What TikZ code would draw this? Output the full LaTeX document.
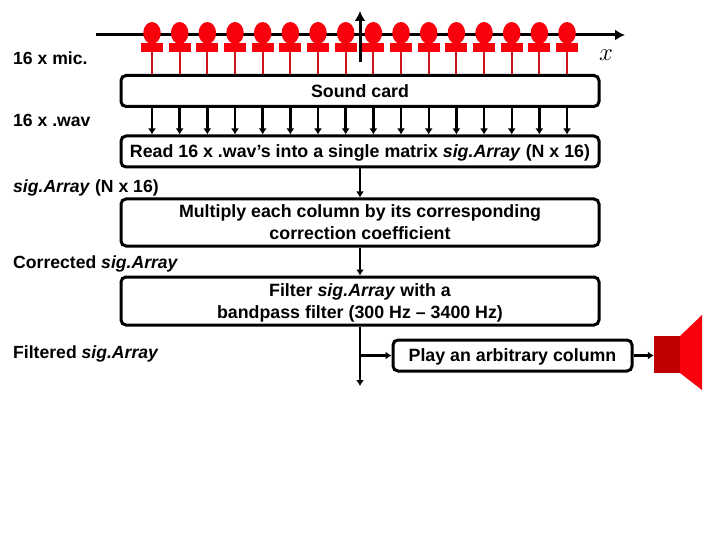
\documentclass[tikz,border=0pt]{standalone}
\usepackage{fontspec}
\setmainfont{Liberation Sans}
\usetikzlibrary{arrows.meta,shapes.geometric}
\definecolor{micred}{RGB}{248,0,12}
\definecolor{stemred}{RGB}{205,20,30}
\definecolor{boxred}{RGB}{190,0,0}
\tikzset{
  stepbox/.style={draw=black, line width=3pt, rounded corners=5pt, fill=white, inner sep=0pt,
    align=center, text depth=0pt, font=\fontsize{17.8}{22}\selectfont\bfseries},
  sidetext/.style={anchor=west, inner sep=0pt, text depth=0pt, font=\fontsize{17.6}{20}\selectfont\bfseries},
  sigline/.style={draw=black, line width=2.4pt, -{Latex[length=6pt,width=8pt]}},
  axisline/.style={draw=black, line width=3pt, -{Latex[length=10pt,width=11pt]}},
}
\begin{document}
\begin{tikzpicture}[x=1pt, y=-1pt]
\useasboundingbox (0,0) rectangle (720,540);

% Axes behind the microphones
\coordinate (Xa) at (96,35);
\coordinate (Xb) at (625,35);
\draw[axisline] (Xa) -- (Xb);
\node[inner sep=0pt, font=\fontsize{28}{28}\selectfont] (xlabel) at (606,55) {$x$};

% Processing boxes
\node[stepbox, minimum width=478pt, minimum height=31pt] (sound) at (360,91) {Sound card};
\node[stepbox, minimum width=478pt, minimum height=31pt] (read) at (360,151.5)
  {Read 16 x .wav’s into a single matrix \textit{sig.Array} (N x 16)};
\node[stepbox, minimum width=478pt, minimum height=47pt] (correct) at (360,222.5)
  {Multiply each column by its  corresponding\\correction coefficient};
\node[stepbox, minimum width=478pt, minimum height=48pt] (filter) at (360,301)
  {Filter \textit{sig.Array} with a\\bandpass filter (300 Hz – 3400 Hz)};
\node[stepbox, minimum width=239pt, minimum height=31pt] (play) at (512.5,355.5) {Play an arbitrary column};

% Microphones with their stems and the signals below
\foreach \i in {0,...,15} {
  \pgfmathsetmacro{\micx}{152+27.67*\i}
  \node[fill=micred, inner sep=0pt, minimum width=22pt, minimum height=9pt] (bar\i) at (\micx,47.5) {};
  \node[ellipse, fill=micred, inner sep=0pt, minimum width=17.5pt, minimum height=22pt] (head\i) at (\micx,33) {};
  \draw[stemred, line width=2pt] (bar\i.south) -- (sound.north -| bar\i);
  \draw[sigline] (sound.south -| bar\i) -- (read.north -| bar\i);
}

% Vertical axis
\coordinate (Ya) at (360,62);
\coordinate (Yb) at (360,11);
\draw[axisline] (Ya) -- (Yb);

% Processing chain
\coordinate (chainend) at (360,386);
\draw[sigline] (read.south -| Ya) -- (correct.north -| Ya);
\draw[sigline] (correct.south -| Ya) -- (filter.north -| Ya);
\draw[sigline] (filter.south -| Ya) -- (chainend);
\draw[sigline] (play.west -| Ya) -- (play.west);

% Labels on the left
\node[sidetext] (lmic) at (13,58) {16 x mic.};
\node[sidetext] (lwav) at (13,120) {16 x .wav};
\node[sidetext] (lmat) at (13,186) {\textit{sig.Array} (N x 16)};
\node[sidetext] (lcor) at (13,262) {Corrected \textit{sig.Array}};
\node[sidetext] (lfil) at (13,352) {Filtered \textit{sig.Array}};

% Loudspeaker
\fill[micred] (680,336) -- (702,315) -- (702,390) -- (680,373) -- cycle;
\node[fill=boxred, inner sep=0pt, minimum width=26pt, minimum height=37pt] (spk) at (667,354.5) {};
\draw[sigline] (play.east) -- (play.east -| spk.west);
\end{tikzpicture}
\end{document}
